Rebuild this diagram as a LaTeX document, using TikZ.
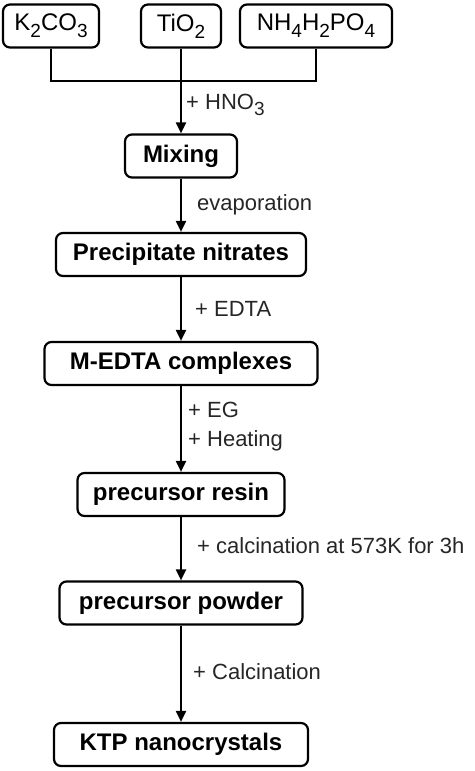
\documentclass[tikz,border=0pt]{standalone}
\usepackage{fontspec}
\setmainfont{Liberation Sans}
\usetikzlibrary{arrows.meta}
\newcommand{\chemsub}[1]{\raisebox{-0.3em}{\fontsize{19}{19}\selectfont #1}}

\begin{document}
\begin{tikzpicture}[x=1pt,y=-1pt]
	\tikzstyle{box} = [draw,rounded corners=7pt,line width=2.2pt,minimum height=43pt,inner sep=0pt,font=\fontsize{24}{28}\selectfont]
	\tikzstyle{stage} = [box,font=\fontsize{24}{28}\selectfont\bfseries]
	\tikzstyle{lbl} = [anchor=west,inner sep=0pt,text=black!85,font=\fontsize{22}{26}\selectfont]
	\tikzstyle{flow} = [line width=2pt,-{Triangle[length=11pt,width=10pt]}]
	\useasboundingbox (0,0) rectangle (474,771);
	
	\node[box,minimum width=96pt] (K2CO3) at (51,26) {K\chemsub{2}CO\chemsub{3}};
	\node[box,minimum width=80pt] (TiO2) at (181,26) {TiO\chemsub{2}};
	\node[box,minimum width=152pt] (NH4) at (316,26) {NH\chemsub{4}H\chemsub{2}PO\chemsub{4}};
	\coordinate (join) at (181,81);
	
	\node[stage,minimum width=112pt] (Mix) at (181,156) {Mixing};
	\node[stage,minimum width=250pt] (Prec) at (181,254.5) {Precipitate nitrates};
	\node[stage,minimum width=273pt] (MEDTA) at (181,363.5) {M-EDTA complexes};
	\node[stage,minimum width=207pt] (Resin) at (181,494.5) {precursor resin};
	\node[stage,minimum width=243pt] (Powder) at (181,603) {precursor powder};
	\node[stage,minimum width=254pt] (KTP) at (181,744.5) {KTP nanocrystals};
	
	\node[lbl] (HNO3) at (186,105) {+ HNO\chemsub{3}};
	\node[lbl] (Evap) at (197,205) {evaporation};
	\node[lbl] (EDTA) at (195,309) {+ EDTA};
	\node[lbl] (EG) at (188,410) {+ EG};
	\node[lbl] (Heat) at (188,441) {+ Heating};
	\node[lbl] (Calc1) at (197,546) {+ calcination at 573K for 3h};
	\node[lbl] (Calc2) at (193,672) {+ Calcination};
	
	\draw[line width=2pt] (K2CO3.south) |- (join) -| (NH4.south);
	\draw[flow] (TiO2.south) -- (Mix.north);
	\draw[flow] (Mix.south) -- (Prec.north);
	\draw[flow] (Prec.south) -- (MEDTA.north);
	\draw[flow] (MEDTA.south) -- (Resin.north);
	\draw[flow] (Resin.south) -- (Powder.north);
	\draw[flow] (Powder.south) -- (KTP.north);
	
\end{tikzpicture}
\end{document}
